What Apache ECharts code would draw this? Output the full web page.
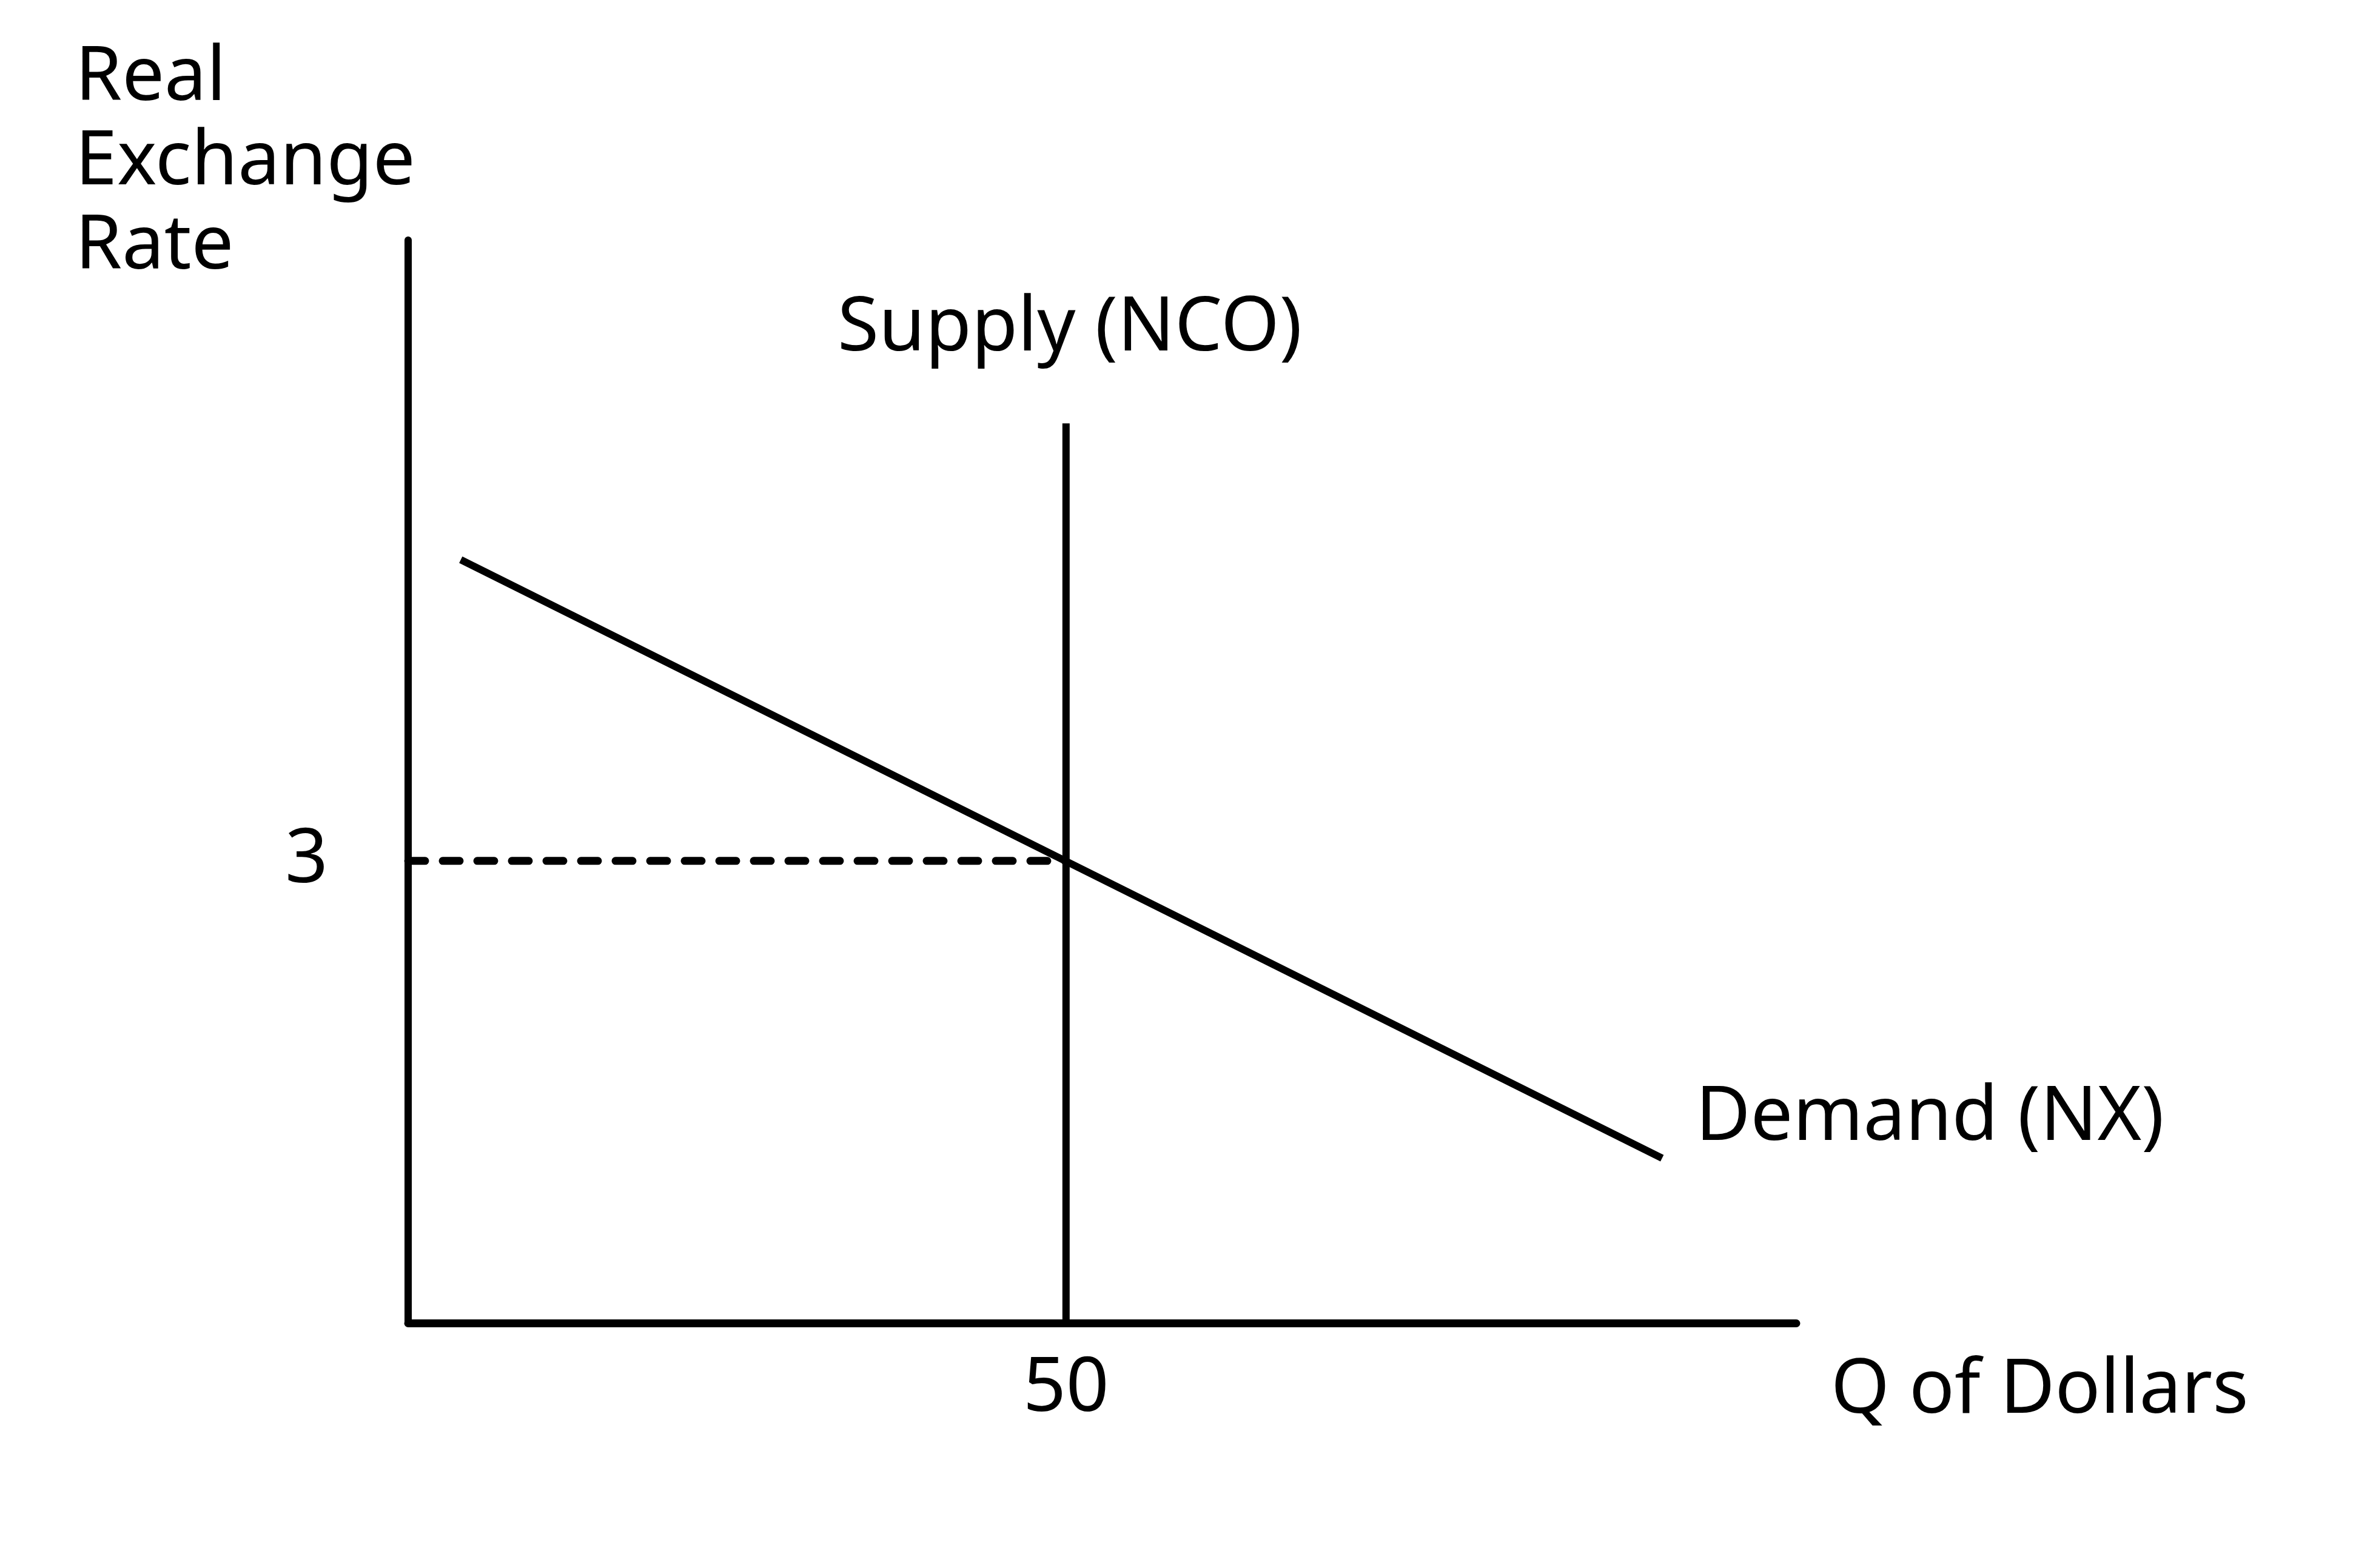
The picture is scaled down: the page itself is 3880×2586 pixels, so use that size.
<!DOCTYPE html>
<html><head><meta charset="utf-8">
<script src="https://cdn.jsdelivr.net/npm/echarts@6/dist/echarts.min.js"></script>
<style>html,body{margin:0;padding:0;background:#fff}#c{width:3880px;height:2586px}</style>
</head><body><div id="c"></div>
<script>
// ---- data ----
const demandQ = [4.0, 95.3];
const demandP = [4.955, 1.07];
const supplyQ = [50, 50];
const supplyP = [0, 5.84];
const eqQ = 50;
const eqP = 3;
const xTicks = [50];
const yTicks = [3];
const yAxisTitle = 'Real\nExchange\nRate';
const xAxisTitle = 'Q of Dollars';
const supplyLabel = 'Supply (NCO)';
const demandLabel = 'Demand (NX)';
const xMax = 105.5;
const yMax = 7.03;

const FONT = '"Noto Sans", "Open Sans", sans-serif';
const chart = echarts.init(document.getElementById('c'), null, {renderer: 'canvas'});
const pts = (xs, ys) => xs.map((x, i) => [x, ys[i]]);
chart.setOption({
  backgroundColor: '#fff',
  animation: false,
  grid: {left: 673, right: 918, top: 396, bottom: 404},
  xAxis: {
    type: 'value', min: 0, max: xMax,
    splitLine: {show: false},
    axisTick: {show: false},
    axisLine: {show: true, onZero: false, lineStyle: {color: '#000', width: 13}},
    axisLabel: {customValues: xTicks, color: '#000', fontSize: 124, fontFamily: FONT, margin: 48}
  },
  yAxis: {
    type: 'value', min: 0, max: yMax,
    splitLine: {show: false},
    axisTick: {show: false},
    axisLine: {show: true, onZero: false, lineStyle: {color: '#000', width: 12}},
    axisLabel: {customValues: yTicks, color: '#000', fontSize: 124, fontFamily: FONT, margin: 132}
  },
  series: [
    {type: 'line', name: 'eq', data: [[0, eqP], [eqQ, eqP]], symbol: 'none', silent: true,
     lineStyle: {color: '#000', width: 13, type: [28, 29], cap: 'round'}},
    {type: 'line', name: 'supply', data: pts(supplyQ, supplyP), symbol: 'none',
     lineStyle: {color: '#000', width: 12, cap: 'butt'}},
    {type: 'line', name: 'demand', data: pts(demandQ, demandP), symbol: 'none',
     lineStyle: {color: '#000', width: 12, cap: 'butt'}}
  ],
  graphic: [
    {type: 'text', left: 124, top: 60, style: {text: yAxisTitle, font: '124px ' + FONT, lineHeight: 139, fill: '#000'}},
    {type: 'text', x: 1764, y: 543, style: {text: supplyLabel, font: '124px ' + FONT, fill: '#000', align: 'center', verticalAlign: 'middle'}},
    {type: 'text', x: 2796, y: 1845, style: {text: demandLabel, font: '124px ' + FONT, fill: '#000', align: 'left', verticalAlign: 'middle'}},
    {type: 'text', x: 3019, y: 2295, style: {text: xAxisTitle, font: '124px ' + FONT, fill: '#000', align: 'left', verticalAlign: 'middle'}}
  ]
});
</script></body></html>
